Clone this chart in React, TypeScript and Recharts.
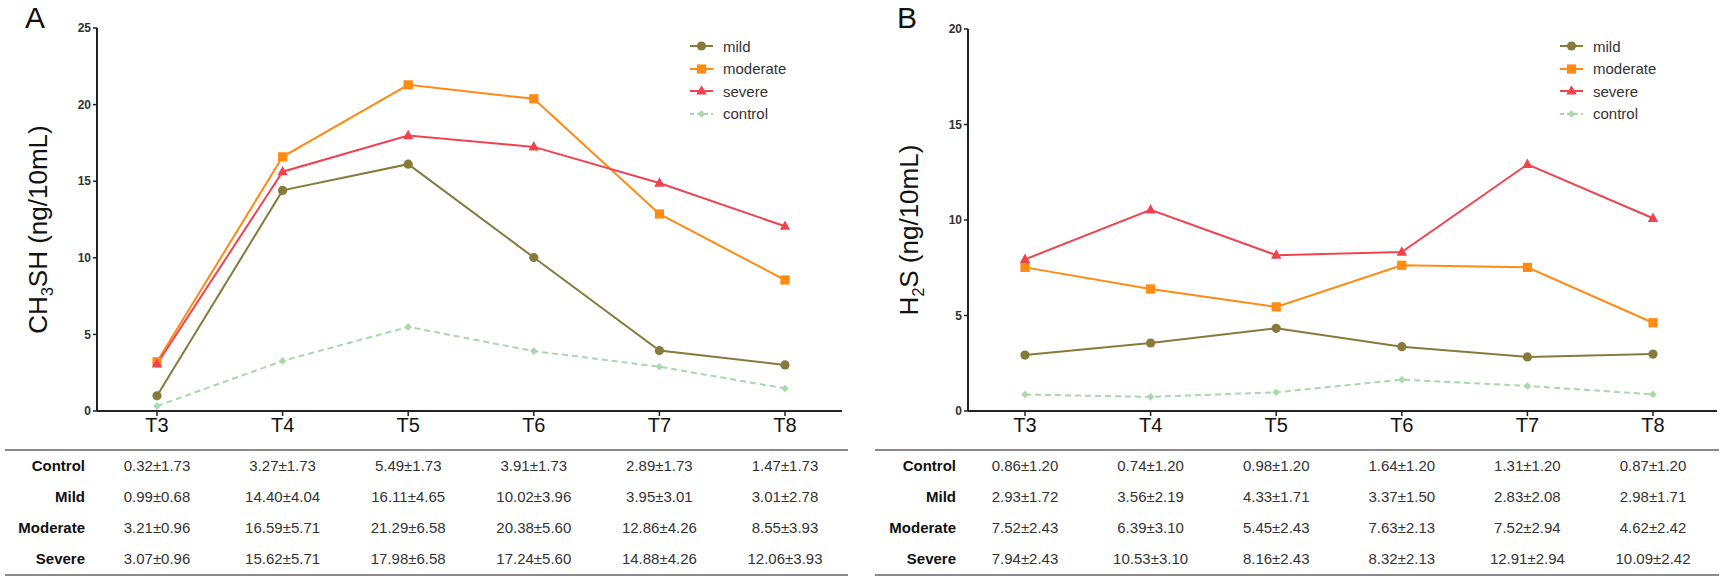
import { LineChart, Line, XAxis, YAxis } from 'recharts';

const categories = ['T3', 'T4', 'T5', 'T6', 'T7', 'T8'];

// CH3SH, mean and SD per time point
const ch3shControl = [0.32, 3.27, 5.49, 3.91, 2.89, 1.47];
const ch3shControlSd = [1.73, 1.73, 1.73, 1.73, 1.73, 1.73];
const ch3shMild = [0.99, 14.4, 16.11, 10.02, 3.95, 3.01];
const ch3shMildSd = [0.68, 4.04, 4.65, 3.96, 3.01, 2.78];
const ch3shModerate = [3.21, 16.59, 21.29, 20.38, 12.86, 8.55];
const ch3shModerateSd = [0.96, 5.71, 6.58, 5.6, 4.26, 3.93];
const ch3shSevere = [3.07, 15.62, 17.98, 17.24, 14.88, 12.06];
const ch3shSevereSd = [0.96, 5.71, 6.58, 5.6, 4.26, 3.93];

// H2S, mean and SD per time point
const h2sControl = [0.86, 0.74, 0.98, 1.64, 1.31, 0.87];
const h2sControlSd = [1.2, 1.2, 1.2, 1.2, 1.2, 1.2];
const h2sMild = [2.93, 3.56, 4.33, 3.37, 2.83, 2.98];
const h2sMildSd = [1.72, 2.19, 1.71, 1.5, 2.08, 1.71];
const h2sModerate = [7.52, 6.39, 5.45, 7.63, 7.52, 4.62];
const h2sModerateSd = [2.43, 3.1, 2.43, 2.13, 2.94, 2.42];
const h2sSevere = [7.94, 10.53, 8.16, 8.32, 12.91, 10.09];
const h2sSevereSd = [2.43, 3.1, 2.43, 2.13, 2.94, 2.42];

const ch3shTicks = [0, 5, 10, 15, 20, 25];
const h2sTicks = [0, 5, 10, 15, 20];

const COLORS = {
  mild: '#877a3b',
  moderate: '#ff8a14',
  severe: '#ef4450',
  control: '#a9d8aa',
};

const FONT = '"Liberation Sans", Arial, sans-serif';

type Shape = 'circle' | 'square' | 'triangle' | 'diamond';

const Marker = ({ cx, cy, fill, shape }: { cx: number; cy: number; fill: string; shape: Shape }) => {
  if (shape === 'circle') return <circle cx={cx} cy={cy} r={4.6} fill={fill} />;
  if (shape === 'square') return <rect x={cx - 4.6} y={cy - 4.6} width={9.2} height={9.2} fill={fill} />;
  if (shape === 'triangle')
    return <polygon points={`${cx},${cy - 5.8} ${cx + 5.2},${cy + 3.6} ${cx - 5.2},${cy + 3.6}`} fill={fill} />;
  return <polygon points={`${cx},${cy - 3.8} ${cx + 3.8},${cy} ${cx},${cy + 3.8} ${cx - 3.8},${cy}`} fill={fill} />;
};

const seriesDefs = [
  { key: 'mild', name: 'mild', color: COLORS.mild, shape: 'circle' as Shape, dash: undefined },
  { key: 'moderate', name: 'moderate', color: COLORS.moderate, shape: 'square' as Shape, dash: undefined },
  { key: 'severe', name: 'severe', color: COLORS.severe, shape: 'triangle' as Shape, dash: undefined },
  { key: 'control', name: 'control', color: COLORS.control, shape: 'diamond' as Shape, dash: '6 4' },
];

// legend block, drawn outside the chart so it takes no room from the plot
const LegendBox = ({ left }: { left: number }) => (
  <div style={{ position: 'absolute', left, top: 35, fontFamily: FONT, fontSize: 15, color: '#333' }}>
    {seriesDefs.map((s) => (
      <div key={s.key} style={{ display: 'flex', alignItems: 'center', height: 22.5 }}>
        <svg width={24} height={14} style={{ marginRight: 9 }}>
          <line x1={0} y1={7} x2={23} y2={7} stroke={s.color} strokeWidth={2} strokeDasharray={s.dash ? '4 3' : undefined} />
          <Marker cx={11.5} cy={7} fill={s.color} shape={s.shape} />
        </svg>
        <span>{s.name}</span>
      </div>
    ))}
  </div>
);

interface PanelProps {
  letter: string;
  left: number;
  width: number;
  axisWidth: number;
  marginRight: number;
  padding: { left: number; right: number };
  domainMax: number;
  ticks: number[];
  titleMain: string;
  titleSub: string;
  titleRest: string;
  titleX: number;
  legendLeft: number;
  control: number[];
  mild: number[];
  moderate: number[];
  severe: number[];
  sds: { control: number[]; mild: number[]; moderate: number[]; severe: number[] };
  ruleLeft: number;
  ruleRight: number;
  labelRight: number;
}

const CHART_H = 445;
const TOP = 28;

const Panel = (p: PanelProps) => {
  const data = categories.map((c, i) => ({
    cat: c,
    control: p.control[i],
    mild: p.mild[i],
    moderate: p.moderate[i],
    severe: p.severe[i],
  }));

  const plotW = p.width - p.axisWidth - p.marginRight;
  const step = (plotW - p.padding.left - p.padding.right) / (categories.length - 1);
  const colX = (i: number) => p.axisWidth + p.padding.left + step * i;

  const rows = [
    { label: 'Control', vals: p.control, sd: p.sds.control },
    { label: 'Mild', vals: p.mild, sd: p.sds.mild },
    { label: 'Moderate', vals: p.moderate, sd: p.sds.moderate },
    { label: 'Severe', vals: p.severe, sd: p.sds.severe },
  ];

  const AxisTitle = (props: any) => {
    const vb = props.viewBox || { y: TOP, height: 383 };
    const cy = vb.y + vb.height / 2 + 10;
    return (
      <text
        x={p.titleX}
        y={cy}
        transform={`rotate(-90, ${p.titleX}, ${cy})`}
        textAnchor="middle"
        fontFamily={FONT}
        fontSize={26}
        fill="#111"
      >
        {p.titleMain}
        <tspan fontSize={16} dy={6}>{p.titleSub}</tspan>
        <tspan dy={-6}>{p.titleRest}</tspan>
      </text>
    );
  };

  return (
    <div style={{ position: 'absolute', left: p.left, top: 0, width: p.width, height: 581 }}>
      <div
        style={{
          position: 'absolute',
          left: p.letter === 'A' ? 25 : 37,
          top: 1,
          fontFamily: FONT,
          fontSize: 30,
          color: '#111',
        }}
      >
        {p.letter}
      </div>
      <LineChart
        width={p.width}
        height={CHART_H}
        data={data}
        margin={{ top: TOP + (p.letter === 'B' ? 1 : 0), right: p.marginRight, left: 0, bottom: 4 }}
      >
        <XAxis
          dataKey="cat"
          padding={p.padding}
          height={30}
          axisLine={{ stroke: '#222', strokeWidth: 2 }}
          tickLine={{ stroke: '#222', strokeWidth: 1.5 }}
          tickSize={5}
          tick={{ fontFamily: FONT, fontSize: 20, fill: '#111' }}
        />
        <YAxis
          width={p.axisWidth}
          domain={[0, p.domainMax]}
          ticks={p.ticks}
          interval={0}
          axisLine={{ stroke: '#222', strokeWidth: 2 }}
          tickLine={{ stroke: '#222', strokeWidth: 1.5 }}
          tickSize={4}
          tick={{ fontFamily: FONT, fontSize: 12, fontWeight: 'bold', fill: '#333' }}
          label={{ content: AxisTitle }}
        />
        {seriesDefs.map((s) => (
          <Line
            key={s.key}
            dataKey={s.key}
            name={s.name}
            type="linear"
            stroke={s.color}
            strokeWidth={2}
            strokeDasharray={s.dash}
            isAnimationActive={false}
            dot={(dp: any) => <Marker key={`${s.key}-${dp.index}`} cx={dp.cx} cy={dp.cy} fill={s.color} shape={s.shape} />}
            activeDot={false}
          />
        ))}
      </LineChart>
      <LegendBox left={p.legendLeft} />

      {/* summary table under the axis */}
      <div style={{ position: 'absolute', left: p.ruleLeft, top: 449, width: p.ruleRight - p.ruleLeft, height: 2, background: '#8a8a8a' }} />
      <div style={{ position: 'absolute', left: p.ruleLeft, top: 574, width: p.ruleRight - p.ruleLeft, height: 2, background: '#8a8a8a' }} />
      {rows.map((r, ri) => {
        const cy = 466 + ri * 31;
        return (
          <div key={r.label}>
            <div
              style={{
                position: 'absolute',
                right: p.width - p.labelRight,
                top: cy - 9,
                fontFamily: FONT,
                fontSize: 15,
                fontWeight: 'bold',
                color: '#111',
                lineHeight: '18px',
                whiteSpace: 'nowrap',
              }}
            >
              {r.label}
            </div>
            {r.vals.map((v, i) => (
              <div
                key={i}
                style={{
                  position: 'absolute',
                  left: colX(i) - 60,
                  width: 120,
                  top: cy - 9,
                  textAlign: 'center',
                  fontFamily: FONT,
                  fontSize: 15,
                  color: '#333',
                  lineHeight: '18px',
                  whiteSpace: 'nowrap',
                }}
              >
                {`${v.toFixed(2)}±${r.sd[i].toFixed(2)}`}
              </div>
            ))}
          </div>
        );
      })}
    </div>
  );
};

export default function App() {
  return (
    <div style={{ position: 'absolute', left: 0, top: 0, width: 1724, height: 581, background: '#fff', overflow: 'hidden' }}>
      <Panel
        letter="A"
        left={0}
        width={860}
        axisWidth={97}
        marginRight={18}
        padding={{ left: 60, right: 57 }}
        domainMax={25}
        ticks={ch3shTicks}
        titleMain="CH"
        titleSub="3"
        titleRest="SH (ng/10mL)"
        titleX={47}
        legendLeft={690}
        control={ch3shControl}
        mild={ch3shMild}
        moderate={ch3shModerate}
        severe={ch3shSevere}
        sds={{ control: ch3shControlSd, mild: ch3shMildSd, moderate: ch3shModerateSd, severe: ch3shSevereSd }}
        ruleLeft={5}
        ruleRight={848}
        labelRight={85}
      />
      <Panel
        letter="B"
        left={860}
        width={864}
        axisWidth={108}
        marginRight={7}
        padding={{ left: 57, right: 64 }}
        domainMax={20}
        ticks={h2sTicks}
        titleMain="H"
        titleSub="2"
        titleRest="S (ng/10mL)"
        titleX={58}
        legendLeft={700}
        control={h2sControl}
        mild={h2sMild}
        moderate={h2sModerate}
        severe={h2sSevere}
        sds={{ control: h2sControlSd, mild: h2sMildSd, moderate: h2sModerateSd, severe: h2sSevereSd }}
        ruleLeft={15}
        ruleRight={859}
        labelRight={96}
      />
    </div>
  );
}
